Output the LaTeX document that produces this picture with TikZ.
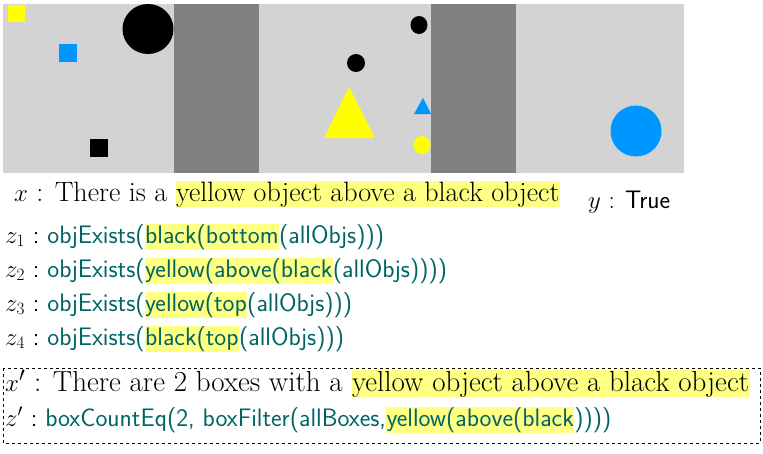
\documentclass[tikz,border=0pt]{standalone}
\usepackage{amsmath}
\definecolor{lg}{RGB}{211,211,211}
\definecolor{dg}{RGB}{128,128,128}
\definecolor{bl}{RGB}{0,150,255}
\definecolor{yl}{RGB}{255,255,0}
\definecolor{hly}{RGB}{255,255,130}
\definecolor{tl}{RGB}{0,100,100}
\newcommand{\hlx}[1]{{\setlength\fboxsep{0.5pt}\colorbox{hly}{\vphantom{Ay}#1}}}
\begin{document}
\begin{tikzpicture}[x=1pt,y=-1pt,
  txt/.style={anchor=base west,inner sep=0pt,font=\fontsize{28}{32}\selectfont},
  code/.style={txt,text=tl,font=\fontsize{25.3}{29}\selectfont\sffamily}]
\useasboundingbox (0,0) rectangle (763,453);
\fill[lg] (3,4) rectangle (684,173);
\fill[dg] (174,4) rectangle (259,173);
\fill[dg] (431,4) rectangle (516,173);
\fill[yl] (8,5) rectangle (25,22);
\fill[bl] (59,44) rectangle (77,62);
\fill[black] (90,139) rectangle (108,157);
\fill[black] (148,29) ellipse (25.5 and 25);
\fill[black] (356,63) ellipse (9 and 9);
\fill[black] (419,25) ellipse (8.5 and 9);
\fill[yl] (349,87) -- (375,138) -- (324,138) -- cycle;
\fill[bl] (423,98) -- (431,114) -- (414,114) -- cycle;
\fill[yl] (422,145) ellipse (8.5 and 9);
\fill[bl] (636,131) ellipse (25.5 and 25.5);

\node[txt] (x) at (14,201) {$x$ : There is a \hlx{yellow object above a black object}};
\node[txt,font=\fontsize{25.3}{29}\selectfont] (y) at (588,208) {$y$ : \textsf{True}};
\node[code] (z1) at (5,243) {\color{black}$z_1$ :\ \color{tl}objExists(\hlx{black(bottom}(allObjs)))};
\node[code] (z2) at (5,277) {\color{black}$z_2$ :\ \color{tl}objExists(\hlx{yellow(above(black}(allObjs))))};
\node[code] (z3) at (5,311) {\color{black}$z_3$ :\ \color{tl}objExists(\hlx{yellow(top}(allObjs)))};
\node[code] (z4) at (5,345) {\color{black}$z_4$ :\ \color{tl}objExists(\hlx{black(top}(allObjs)))};
\node[txt,font=\fontsize{29}{33}\selectfont] (xp) at (5,391) {$x'$ : There are 2 boxes with a \hlx{yellow object above a black object}};
\node[code] (zp) at (5,426) {\color{black}$z'$ :\ \color{tl}boxCountEq(2, boxFilter(allBoxes,\hlx{yellow(above(black}))))};
\draw[dashed,line width=0.8pt] (3,368) rectangle (760,443);
\end{tikzpicture}
\end{document}
